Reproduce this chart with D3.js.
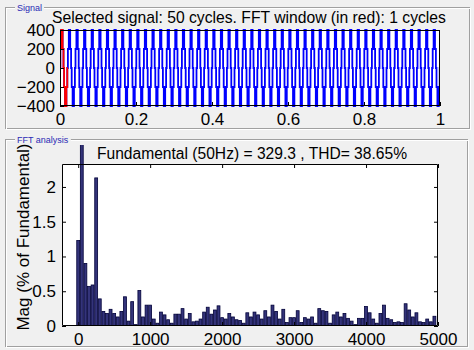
<!DOCTYPE html>
<html>
<head>
<meta charset="utf-8">
<script src="https://cdn.jsdelivr.net/npm/d3@7"></script>
<style>
  html, body { margin: 0; padding: 0; background: #f0f0f0; }
  svg { display: block; font-family: "Liberation Sans", Arial, sans-serif; }
</style>
</head>
<body>
<svg id="chart" width="474" height="350"></svg>
<script>
// ---------- DATA ----------
const signalTitle = "Selected signal: 50 cycles. FFT window (in red): 1 cycles";
const fftTitle = "Fundamental (50Hz) = 329.3 , THD= 38.65%";
const yLabelFFT = "Mag (% of Fundamental)";
const xLabelSignal = "Time (s)";
const cycles = 50;
const windowCycles = 1;
// one cycle of the stepped signal (fraction of cycle, level in V)
const cyclePhase = [0, 0.04, 0.16, 0.34, 0.46, 0.54, 0.66, 0.84, 0.96];
const cycleLevel = [0, 200, 400, 200, 0, -200, -400, -200, 0];
const signalXTicks = [0, 0.2, 0.4, 0.6, 0.8, 1];
const signalYTicks = [-400, -200, 0, 200, 400];
// harmonic magnitudes (% of fundamental), 0 Hz .. 4950 Hz in 50 Hz bins
const binHz = 50;
const magnitudes = [
  1.23, 100, 0.90, 0.57, 0.59, 2.13, 0.39, 0.21, 0.18, 0.24,
  0.18, 0.13, 0.21, 0.42, 0.07, 0.35, 0.02, 0.51, 0.13, 0.30,
  0.30, 0.10, 0.04, 0.20, 0.16, 0.09, 0.04, 0.17, 0.17, 0.25,
  0.10, 0.18, 0.06, 0.07, 0.10, 0.20, 0.27, 0.17, 0.23, 0.29,
  0.12, 0.10, 0.18, 0.13, 0.09, 0.08, 0.04, 0.19, 0.13, 0.20,
  0.16, 0.10, 0.22, 0.13, 0.30, 0.21, 0.10, 0.24, 0.05, 0.12,
  0.12, 0.22, 0.05, 0.12, 0.10, 0.13, 0.04, 0.25, 0.22, 0.21,
  0.04, 0.16, 0.20, 0.13, 0.18, 0.11, 0.07, 0.02, 0.11, 0.11,
  0.28, 0.19, 0.10, 0.04, 0.18, 0.30, 0.11, 0.09, 0.05, 0.06,
  0.05, 0.32, 0.23, 0.13, 0.19, 0.06, 0.05, 0.10, 0.06, 0.14
];
const fftXTicks = [0, 1000, 2000, 3000, 4000, 5000];
const fftYTicks = [0, 0.5, 1, 1.5, 2];

// ---------- LAYOUT ----------
const svg = d3.select("#chart");
const FONT = 17;

function panel(x, y, w, h, label) {
  const g = svg.append("g");
  g.append("rect").attr("x", x + 0.5).attr("y", y + 0.5).attr("width", w).attr("height", h)
    .attr("fill", "none").attr("stroke", "#a0a0a0");
  g.append("rect").attr("x", x + 1.5).attr("y", y + 1.5).attr("width", w).attr("height", h)
    .attr("fill", "none").attr("stroke", "#ffffff");
  const t = g.append("text").attr("x", x + 12).attr("y", y + 4).text(label)
    .attr("font-size", 9).attr("fill", "#2b2bb5");
  const bb = t.node().getBBox();
  g.insert("rect", "text").attr("x", bb.x - 2).attr("y", y - 1).attr("width", bb.width + 4).attr("height", 5)
    .attr("fill", "#f0f0f0");
  return g;
}
panel(5, 7, 464, 121, "Signal");
panel(5, 139, 462, 207, "FFT analysis");

// ---------- SIGNAL PLOT ----------
const s = { left: 60, right: 440, top: 30, bottom: 106 };
const xs = d3.scaleLinear().domain([0, 1]).range([s.left, s.right]);
const ys = d3.scaleLinear().domain([-400, 400]).range([s.bottom, s.top]);

svg.append("rect").attr("x", s.left).attr("y", s.top).attr("width", s.right - s.left)
  .attr("height", s.bottom - s.top).attr("fill", "#ffffff");

// x label, mostly hidden by the panel edge
svg.append("clipPath").attr("id", "lblclip").append("rect")
  .attr("x", 0).attr("y", 0).attr("width", 474).attr("height", 128);
svg.append("text").attr("x", (s.left + s.right) / 2).attr("y", 141)
  .attr("text-anchor", "middle").attr("font-size", FONT).attr("fill", "#222")
  .attr("clip-path", "url(#lblclip)").text(xLabelSignal);

function buildSignal(c0, c1) {
  const pts = [];
  for (let k = c0; k < c1; k++) {
    cyclePhase.forEach((p, i) => pts.push([(k + p) / cycles, cycleLevel[i]]));
  }
  pts.push([c1 / cycles, cycleLevel[0]]);
  return pts;
}
svg.append("clipPath").attr("id", "sclip").append("rect")
  .attr("x", s.left).attr("y", s.top - 1).attr("width", s.right - s.left).attr("height", s.bottom - s.top + 2);
const sline = d3.line().x(d => xs(d[0])).y(d => ys(d[1])).curve(d3.curveStepAfter);
svg.append("path").datum(buildSignal(0, cycles)).attr("d", sline)
  .attr("fill", "none").attr("stroke", "#0000ff").attr("stroke-width", 1.8)
  .attr("clip-path", "url(#sclip)");
svg.append("path").datum(buildSignal(0, windowCycles)).attr("d", sline)
  .attr("fill", "none").attr("stroke", "#ff0000").attr("stroke-width", 1.8)
  .attr("clip-path", "url(#sclip)");

function styleAxis(g) {
  g.selectAll("path.domain").remove();
  g.selectAll("line").attr("stroke", "#000");
  g.selectAll("text").attr("font-size", FONT).attr("fill", "#000")
    .attr("font-family", "Liberation Sans, Arial, sans-serif");
}
svg.append("g").attr("transform", `translate(0,${s.bottom})`)
  .call(d3.axisBottom(xs).tickValues(signalXTicks).tickFormat(d3.format("~g")).tickSizeInner(-4).tickSizeOuter(0).tickPadding(7))
  .call(styleAxis);
svg.append("g").attr("transform", `translate(${s.left},0)`)
  .call(d3.axisLeft(ys).tickValues(signalYTicks).tickFormat(d3.format("d")).tickSizeInner(-4).tickSizeOuter(0).tickPadding(5))
  .call(styleAxis);
svg.append("rect").attr("x", s.left + 0.5).attr("y", s.top + 0.5).attr("width", s.right - s.left - 1)
  .attr("height", s.bottom - s.top - 1).attr("fill", "none").attr("stroke", "#000");
svg.append("text").attr("x", 249).attr("y", 23).attr("text-anchor", "middle")
  .attr("font-size", 15.7).attr("fill", "#000").text(signalTitle);

// ---------- FFT PLOT ----------
const f = { left: 62, right: 438, top: 164, bottom: 326 };
const xf = d3.scaleLinear().domain([-225, 5000]).range([f.left, f.right]);
const yf = d3.scaleLinear().domain([0, 2.33]).range([f.bottom, f.top]);

svg.append("rect").attr("x", f.left).attr("y", f.top).attr("width", f.right - f.left)
  .attr("height", f.bottom - f.top).attr("fill", "#ffffff");

svg.append("text").attr("x", 252).attr("y", 159).attr("text-anchor", "middle")
  .attr("font-size", 15.6).attr("fill", "#000").text(fftTitle);

svg.append("clipPath").attr("id", "fclip").append("rect")
  .attr("x", f.left).attr("y", f.top - 19).attr("width", f.right - f.left).attr("height", f.bottom - f.top + 19);

const bars = magnitudes.map((m, i) => ({ hz: i * binHz, mag: m }));
const halfW = binHz * 0.4;
svg.append("g").attr("clip-path", "url(#fclip)").selectAll("rect").data(bars).join("rect")
  .attr("x", d => xf(d.hz - halfW))
  .attr("width", d => xf(d.hz + halfW) - xf(d.hz - halfW))
  .attr("y", d => yf(d.mag))
  .attr("height", d => yf(0) - yf(d.mag))
  .attr("fill", "#34347a").attr("stroke", "#000038").attr("stroke-width", 0.8);

svg.append("g").attr("transform", `translate(0,${f.bottom})`)
  .call(d3.axisBottom(xf).tickValues(fftXTicks).tickFormat(d3.format("d")).tickSizeInner(-4).tickSizeOuter(0).tickPadding(7))
  .call(styleAxis);
svg.append("g").attr("transform", `translate(0,${f.top})`)
  .call(d3.axisTop(xf).tickValues(fftXTicks).tickFormat("").tickSizeInner(-4).tickSizeOuter(0))
  .call(styleAxis);
svg.append("g").attr("transform", `translate(${f.left},0)`)
  .call(d3.axisLeft(yf).tickValues(fftYTicks).tickFormat(d3.format("~g")).tickSizeInner(-4).tickSizeOuter(0).tickPadding(6))
  .call(styleAxis);
svg.append("g").attr("transform", `translate(${f.right},0)`)
  .call(d3.axisRight(yf).tickValues(fftYTicks).tickFormat("").tickSizeInner(-4).tickSizeOuter(0))
  .call(styleAxis);
svg.append("path")
  .attr("d", `M${f.left + 0.5},${f.top + 0.5}H${f.right - 0.5}V${f.bottom - 0.5}H${f.left + 0.5}Z`)
  .attr("fill", "none").attr("stroke", "#000");

svg.append("text").attr("transform", `translate(29,${(f.top + f.bottom) / 2 - 8}) rotate(-90)`)
  .attr("text-anchor", "middle").attr("font-size", FONT).attr("fill", "#000").text(yLabelFFT);
</script>
</body>
</html>
